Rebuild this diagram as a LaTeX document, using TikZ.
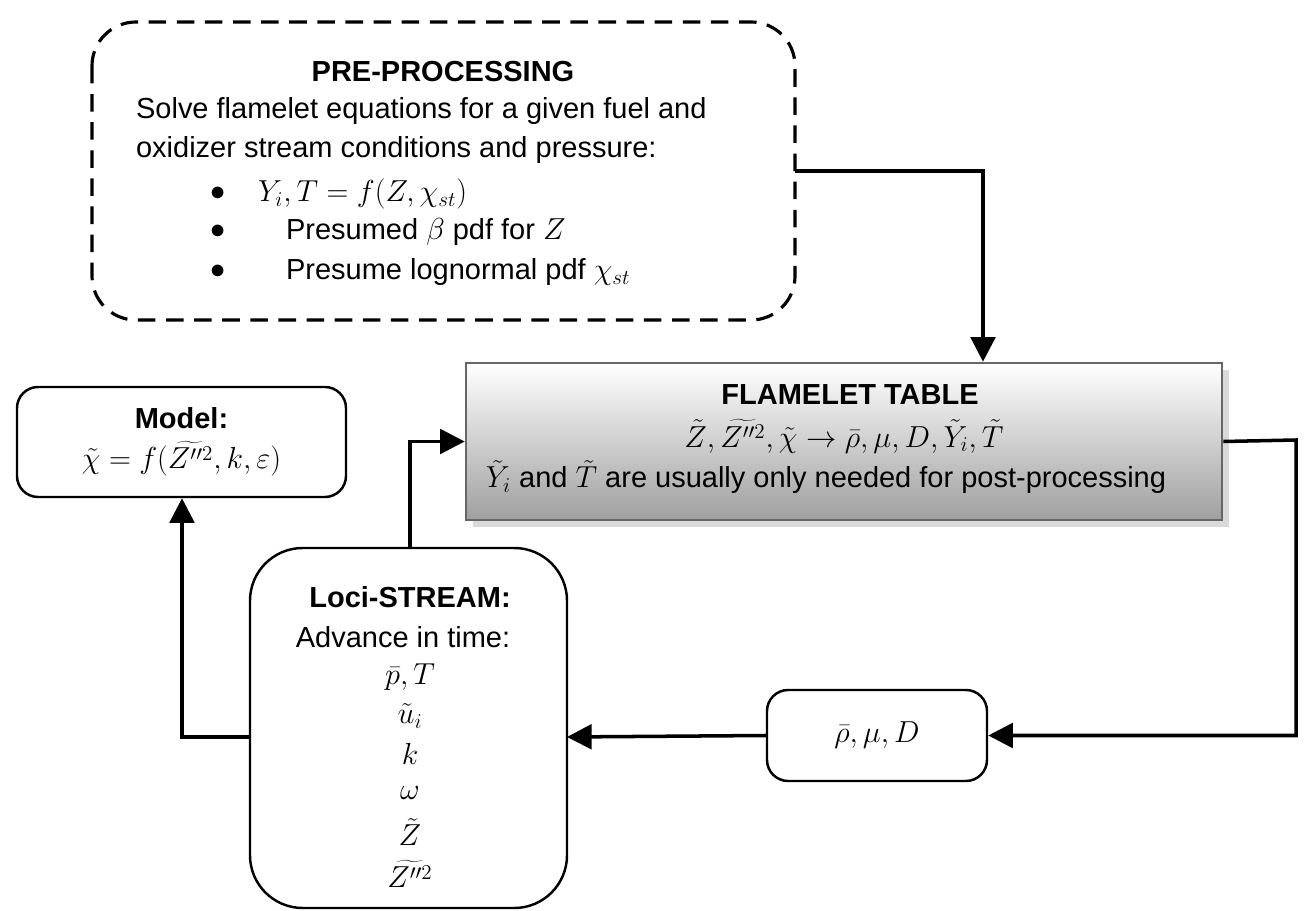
\documentclass[tikz,border=0pt]{standalone}
\usepackage{fontspec}
\setmainfont{Liberation Sans}
\usetikzlibrary{arrows.meta,shadows}
\begin{document}
\begin{tikzpicture}[x=0.02cm,y=-0.02cm,
  every node/.style={font=\fontsize{16.5}{19}\selectfont,inner sep=1pt},
  tfont/.style={font=\fontsize{16.5}{19}\selectfont\bfseries},
  conn/.style={line width=2pt,-{Triangle[length=14pt,width=14pt]}},
  box/.style={draw,line width=1.4pt,rounded corners=12pt}]
\useasboundingbox (0,0) rectangle (1311,911);
% pre-processing
\draw[line width=1.8pt,dash pattern=on 10pt off 6pt,rounded corners=25pt] (92,22) rectangle (795,320);
\node[coordinate] (pre) at (795,171) {};
\node[tfont] (pret) at (443,72) {PRE-PROCESSING};
\node[anchor=west] (l1) at (134,111) {Solve flamelet equations for a given fuel and};
\node[anchor=west] (l2) at (134,150) {oxidizer stream conditions and pressure:};
\node (b1) at (218,194) {$\bullet$};
\node (b2) at (218,232) {$\bullet$};
\node (b3) at (218,272) {$\bullet$};
\node[anchor=west] (t1) at (256,194) {$Y_i, T = f(Z,\chi_{st})$};
\node[anchor=west] (t2) at (284,232) {Presumed $\beta$ pdf for $Z$};
\node[anchor=west] (t3) at (284,272) {Presume lognormal pdf $\chi_{st}$};
% flamelet table
\node[draw=gray!80!black,line width=1.5pt,top color=white,bottom color=gray!75,
  drop shadow={shadow xshift=4pt,shadow yshift=-4pt,opacity=0.3},
  minimum width=756*0.02cm,minimum height=157*0.02cm] (ft) at (844,441.5) {};
\node[tfont] (ftt) at (850,395) {FLAMELET TABLE};
\node (ft2) at (844,436) {$\tilde Z, \widetilde{Z''^2}, \tilde\chi \rightarrow \bar\rho, \mu, D, \tilde Y_i, \tilde T$};
\node (ft3) at (826,477) {$\tilde Y_i$ and $\tilde T$ are usually only needed for post-processing};
% model
\node[box,minimum width=329*0.02cm,minimum height=110*0.02cm,align=center] (model) at (181.5,442)
  {\textbf{Model:}\\[4pt] $\tilde\chi = f(\widetilde{Z''^2}, k, \varepsilon)$};
% loci
\draw[line width=1.4pt,rounded corners=30pt] (250,548) rectangle (567,908);
\node[coordinate] (locitop) at (410,548) {};
\node[coordinate] (locir) at (567,737) {};
\node[coordinate] (locil) at (250,737) {};
\node[tfont] (lt) at (410,597) {Loci-STREAM:};
\node (la) at (403,637) {Advance in time:};
\node (v1) at (410,677) {$\bar p, T$};
\node (v2) at (410,716) {$\tilde u_i$};
\node (v3) at (410,754) {$k$};
\node (v4) at (410,793) {$\omega$};
\node (v5) at (410,832) {$\tilde Z$};
\node (v6) at (410,874) {$\widetilde{Z''^2}$};
% rho box
\node[box,minimum width=220*0.02cm,minimum height=91*0.02cm] (rho) at (877,735.5) {$\bar\rho, \mu, D$};
% connectors
\draw[conn] (pre) -| (ft.north -| 983,0);
\draw[conn] (ft.east) -- (1296,440) |- (rho.east);
\draw[conn] (rho.west) -- (locir);
\draw[conn] (locitop) |- (ft.west);
\draw[conn] (locil) -| (model.south -| 182,0);
\end{tikzpicture}
\end{document}
